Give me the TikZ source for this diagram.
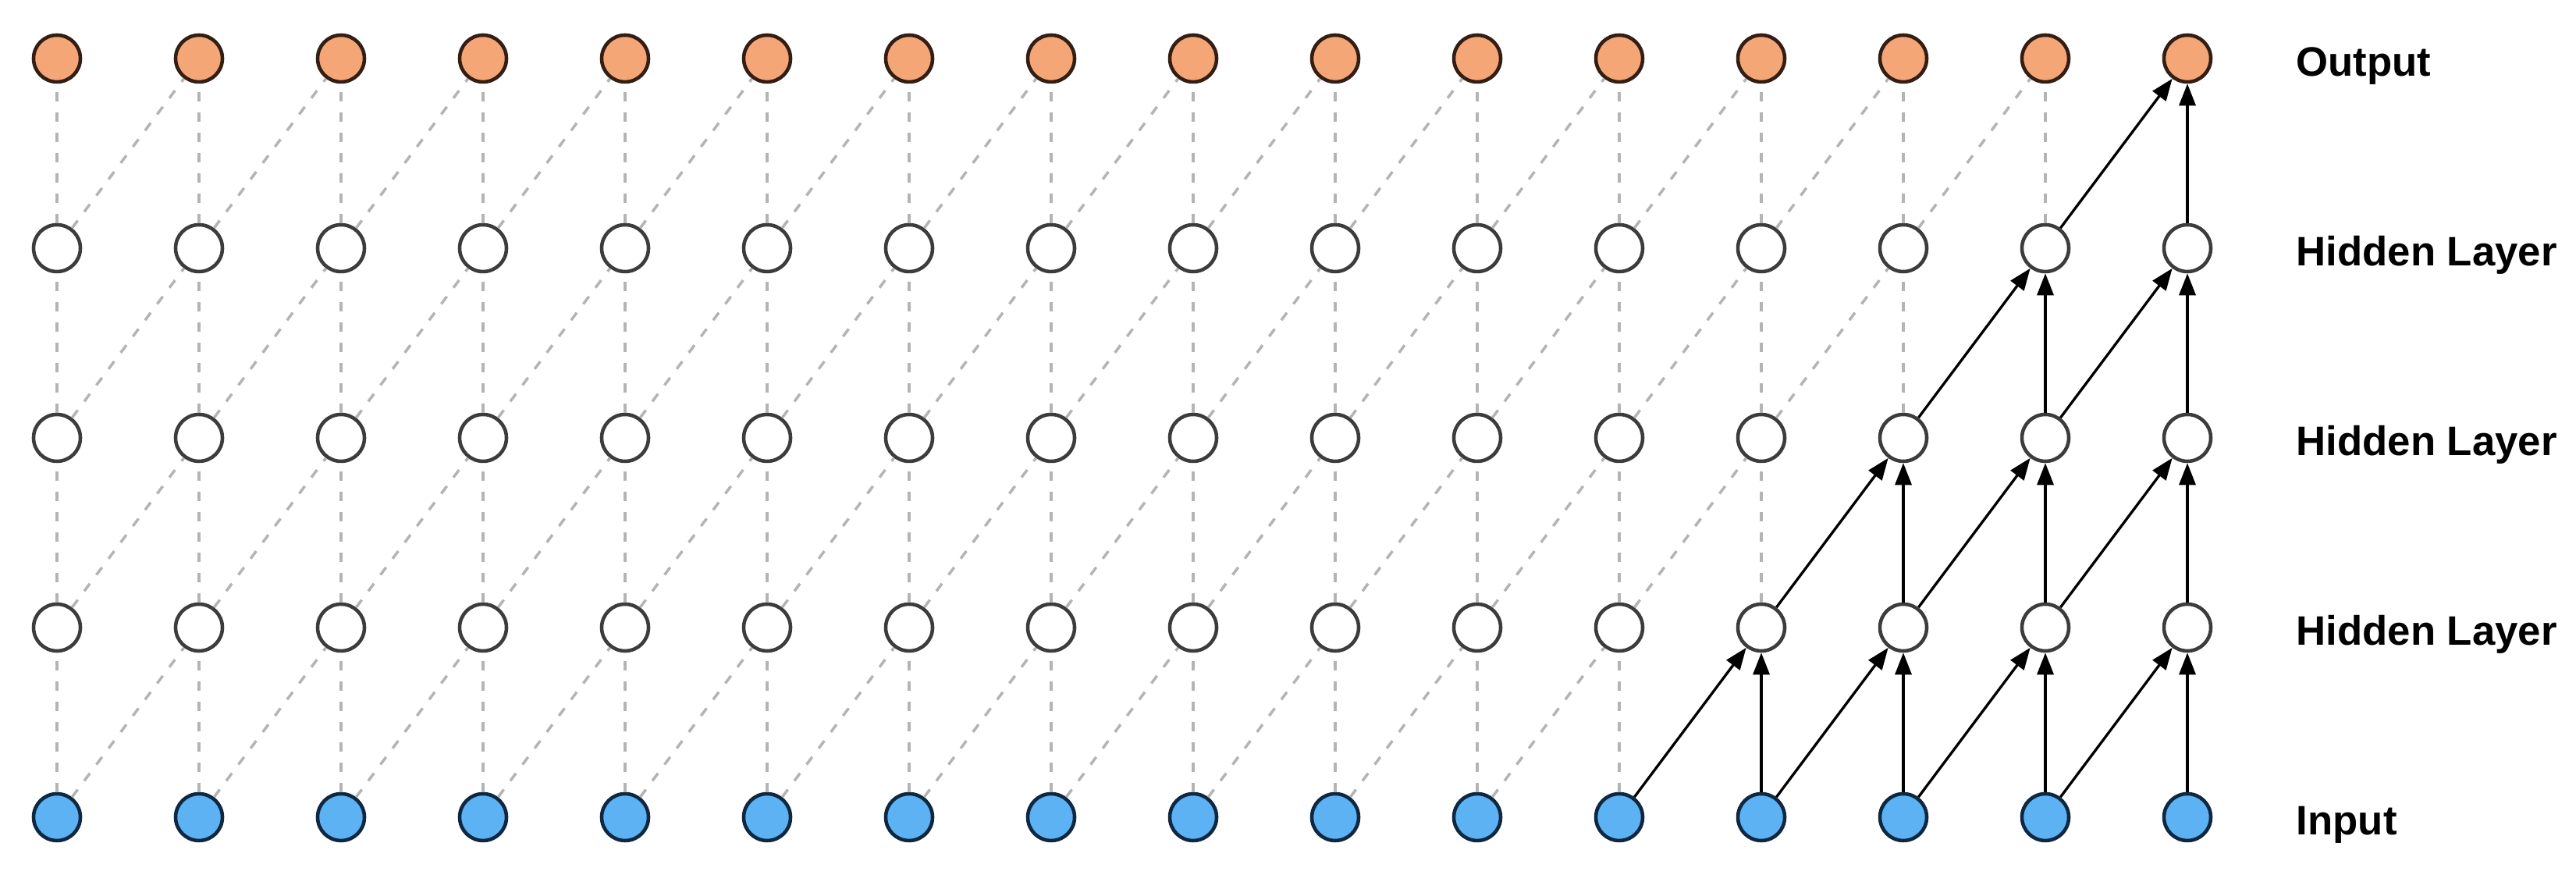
\documentclass[tikz,border=0pt]{standalone}
\usepackage{fontspec}
\usepackage{tikz}
\usetikzlibrary{arrows.meta}
\setmainfont{Liberation Sans}
\definecolor{outorange}{RGB}{245,166,118}
\definecolor{outedge}{RGB}{50,30,20}
\definecolor{inblue}{RGB}{92,178,242}
\definecolor{inedge}{RGB}{15,40,65}
\definecolor{hidedge}{RGB}{60,60,60}
\definecolor{dashgray}{RGB}{180,180,180}

\begin{document}
\begin{tikzpicture}
    % Define styles
    \tikzstyle{unit} = [circle, minimum size=0.6cm, inner sep=0pt, line width=1.3pt]
    \tikzstyle{outunit} = [unit, draw=outedge, fill=outorange]
    \tikzstyle{hidunit} = [unit, draw=hidedge, fill=white]
    \tikzstyle{inunit} = [unit, draw=inedge, fill=inblue]
    \tikzstyle{link} = [draw=dashgray, line width=1pt, dash pattern=on 0.12cm off 0.14cm]
    \tikzstyle{arrow} = [line width=0.95pt, -{Triangle[length=0.28cm, width=0.21cm]}]
    \tikzstyle{layername} = [anchor=base west, inner sep=0pt,
                             font=\bfseries\fontsize{15pt}{18pt}\selectfont]

    \useasboundingbox (0,0) rectangle (33.01,11.30);

    % Create units
    \foreach \j in {1,...,16} {
        \pgfmathsetmacro\x{0.73+1.82*(\j-1)}
        \node[inunit] (in-\j) at (\x,0.83) {};
        \node[hidunit] (ha-\j) at (\x,3.26) {};
        \node[hidunit] (hb-\j) at (\x,5.69) {};
        \node[hidunit] (hc-\j) at (\x,8.12) {};
        \node[outunit] (out-\j) at (\x,10.55) {};
    }

    % Draw connections
    \foreach \src/\dst/\s in {in/ha/13, ha/hb/14, hb/hc/15, hc/out/16} {
        \foreach \j in {1,...,16} {
            \ifnum\j<\s
                \draw[link] (\src-\j) -- (\dst-\j);
            \else
                \draw[arrow] (\src-\j) -- (\dst-\j);
            \fi
        }
        \foreach \j [count=\k from 2] in {1,...,15} {
            \ifnum\k<\s
                \draw[link] (\src-\j) -- (\dst-\k);
            \else
                \draw[arrow] (\src-\j) -- (\dst-\k);
            \fi
        }
    }

    % Layer names
    \node[layername] (name-out) at (29.42,10.32) {Output};
    \node[layername] (name-hc) at (29.42,7.89) {Hidden Layer};
    \node[layername] (name-hb) at (29.42,5.46) {Hidden Layer};
    \node[layername] (name-ha) at (29.42,3.03) {Hidden Layer};
    \node[layername] (name-in) at (29.42,0.60) {Input};
\end{tikzpicture}
\end{document}
